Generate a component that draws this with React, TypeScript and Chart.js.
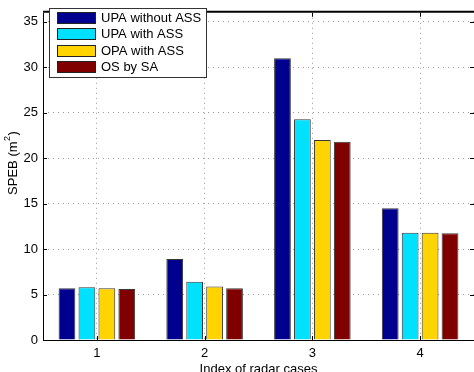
import { useEffect, useRef } from 'react';
import { Chart, registerables } from 'chart.js';

Chart.register(...registerables);

const categories = ['1', '2', '3', '4'];
const seriesNames = ['UPA without ASS', 'UPA with ASS', 'OPA with ASS', 'OS by SA'];
const upaWithoutAss = [5.7, 8.9, 31.0, 14.5];
const upaWithAss = [5.8, 6.4, 24.3, 11.8];
const opaWithAss = [5.7, 5.9, 22.0, 11.8];
const osBySa = [5.6, 5.7, 21.8, 11.75];
const yTicks = [0, 5, 10, 15, 20, 25, 30, 35];
const seriesColors = ['#00008F', '#00E1FF', '#FFD400', '#800000'];
const yTitleMain = 'SPEB (m';
const yTitleSup = '2';
const yTitleEnd = ')';
const xTitle = 'Index of radar cases';

const FONT = '"Liberation Sans", Arial, sans-serif';

const framePlugin = {
  id: 'framePlugin',
  afterDatasetsDraw(chart: any) {
    const { ctx, chartArea } = chart;
    const { left, right, top, bottom } = chartArea;
    const xs = chart.scales.x;
    const ys = chart.scales.y;
    ctx.save();
    ctx.strokeStyle = '#000';
    ctx.lineWidth = 1;
    ctx.beginPath();
    ctx.moveTo(left + 0.5, top);
    ctx.lineTo(left + 0.5, bottom + 0.5);
    ctx.lineTo(right, bottom + 0.5);
    ctx.stroke();
    ctx.lineWidth = 2;
    ctx.beginPath();
    ctx.moveTo(left, top - 1);
    ctx.lineTo(right, top - 1);
    ctx.stroke();
    ctx.lineWidth = 1;
    ctx.beginPath();
    categories.forEach((_, i) => {
      const px = Math.round(xs.getPixelForValue(i)) + 0.5;
      ctx.moveTo(px, bottom);
      ctx.lineTo(px, bottom - 4);
      ctx.moveTo(px, top);
      ctx.lineTo(px, top + 4);
    });
    yTicks.forEach((v) => {
      const py = Math.round(ys.getPixelForValue(v)) + 0.5;
      ctx.moveTo(left, py);
      ctx.lineTo(left + 4, py);
      ctx.moveTo(right, py);
      ctx.lineTo(right - 4, py);
    });
    ctx.stroke();
    ctx.restore();
  },
  afterDraw(chart: any) {
    const { ctx, chartArea } = chart;
    ctx.save();
    const bx = 49.5, by = 8.5, bw = 157, bh = 69;
    ctx.fillStyle = '#fff';
    ctx.fillRect(bx, by, bw, bh);
    ctx.strokeStyle = '#333';
    ctx.lineWidth = 1;
    ctx.strokeRect(bx, by, bw, bh);
    ctx.font = `13px ${FONT}`;
    ctx.textBaseline = 'middle';
    ctx.textAlign = 'left';
    chart.data.datasets.forEach((ds: any, i: number) => {
      const sy = 12 + i * 16.4;
      ctx.fillStyle = ds.backgroundColor;
      ctx.fillRect(57, Math.round(sy), 39, 12);
      ctx.strokeStyle = '#222';
      ctx.strokeRect(57.5, Math.round(sy) + 0.5, 38, 11);
      ctx.fillStyle = '#000';
      ctx.fillText(ds.label, 101, Math.round(sy) + 6.5);
    });
    // x title
    ctx.fillStyle = '#000';
    ctx.font = `13px ${FONT}`;
    ctx.textAlign = 'center';
    ctx.textBaseline = 'middle';
    ctx.fillText(xTitle, (chartArea.left + chartArea.right) / 2, 369);
    // y title with superscript
    ctx.translate(13, 163);
    ctx.rotate(-Math.PI / 2);
    ctx.textAlign = 'left';
    ctx.font = `13px ${FONT}`;
    const w1 = ctx.measureText(yTitleMain).width;
    const w3 = ctx.measureText(yTitleEnd).width;
    ctx.font = `9px ${FONT}`;
    const w2 = ctx.measureText(yTitleSup).width;
    const total = w1 + w2 + w3 + 1;
    let x0 = -total / 2;
    ctx.font = `13px ${FONT}`;
    ctx.fillText(yTitleMain, x0, 0);
    x0 += w1 + 0.5;
    ctx.font = `9px ${FONT}`;
    ctx.fillText(yTitleSup, x0, -5);
    x0 += w2 + 0.5;
    ctx.font = `13px ${FONT}`;
    ctx.fillText(yTitleEnd, x0, 0);
    ctx.restore();
  },
};

export default function App() {
  const ref = useRef<HTMLCanvasElement | null>(null);
  useEffect(() => {
    document.body.style.margin = '0';
    const seriesValues = [upaWithoutAss, upaWithAss, opaWithAss, osBySa];
    const chart = new Chart(ref.current as HTMLCanvasElement, {
      type: 'bar',
      data: {
        labels: categories,
        datasets: seriesNames.map((name, i) => ({
          label: name,
          data: seriesValues[i],
          backgroundColor: seriesColors[i],
          borderColor: 'rgba(20,20,20,0.85)',
          borderWidth: 1,
          categoryPercentage: 0.74,
          barPercentage: 0.84,
        })),
      },
      options: {
        animation: false,
        responsive: false,
        maintainAspectRatio: false,
        layout: { padding: { top: 2, right: 0, left: 0, bottom: 0 } },
        plugins: { legend: { display: false }, tooltip: { enabled: false } },
        scales: {
          x: {
            offset: true,
            grid: { offset: false, color: '#9a9a9a', drawTicks: false, lineWidth: 1 },
            border: { display: false, dash: [1, 4] },
            ticks: { color: '#000', font: { family: FONT, size: 13 }, padding: 6 },
            afterFit: (s: any) => { s.height = 32; },
          },
          y: {
            min: 0,
            max: 36,
            grid: { color: '#9a9a9a', drawTicks: false, lineWidth: 1 },
            border: { display: false, dash: [1, 4] },
            ticks: { stepSize: 5, color: '#000', font: { family: FONT, size: 13 }, padding: 5 },
            afterBuildTicks: (s: any) => {
              s.ticks = yTicks.map((v) => ({ value: v }));
            },
            afterFit: (s: any) => { s.width = 43; },
          },
        },
      },
      plugins: [framePlugin],
    });
    return () => chart.destroy();
  }, []);
  return (
    <div style={{ position: 'fixed', left: 0, top: 0, width: 474, height: 372, background: '#fff' }}>
      <canvas ref={ref} width={474} height={372} style={{ width: 474, height: 372 }} />
    </div>
  );
}
